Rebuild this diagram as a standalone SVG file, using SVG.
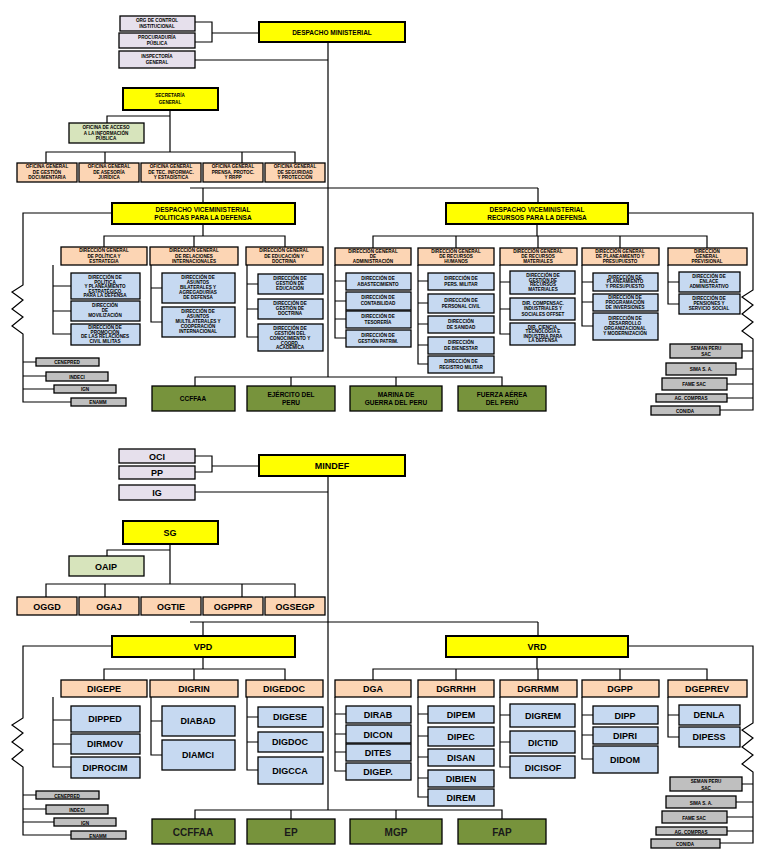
<svg xmlns="http://www.w3.org/2000/svg" width="768" height="866" viewBox="0 0 768 866">
<style>
rect{stroke:#000;stroke-width:1.3}
.y{fill:#ffff00;stroke-width:2}.l{fill:#e6e0ec}.g{fill:#d7e4bc}.o{fill:#fcd5b4}.b{fill:#c6d9f1}.gr{fill:#bfbfbf}.f{fill:#77933c}
text{font-family:"Liberation Sans",Arial,sans-serif;font-weight:900;text-anchor:middle;fill:#000}
.t{font-size:4.6px}.m{font-size:6.5px}.T{font-size:9px}.F{font-size:10px;fill:#1a1a1a}
.c path,.c line{stroke:#000;stroke-width:1.2;fill:none}
</style>
<g class="c" id="connectors">
<!-- top -->
<path d="M195,22H212V42H195M212,33H259M195,60H328M328,42V377M170,110V152M170,116H107V123M46,163V152H295V163M105,152V163M242,152V163M190,188H538M203,188V203M538,188V203"/>
<path d="M203,224V236M104,247V236H285V247M194,236V247M53,265V334H71M53,286H71M53,311H71M151,265V322H162M151,288H162M247,265V337H258M247,284H258M247,309H258"/>
<path d="M112,213H23V285L12,292L23,300L12,309L23,317L12,326L23,334V402H71M23,362H36M23,376H46M23,389H54"/>
<path d="M537,224V236M373,248V236H707V248M456,236V248M538,236V248M620,236V248M335,265V338H346M335,281H346M335,301H346M335,319H346M418,265V364H428M418,281H428M418,303H428M418,324H428M418,345H428M500,265V334H510M500,282H510M500,309H510M582,265V326H593M582,282H593M582,302H593M668,265V304H679M668,282H679"/>
<path d="M628,213H753V290L742,297L753,305L742,314L753,322L742,331L753,339V410H720M742,351H753M736,369H753M727,384H753M727,398H753"/>
<path d="M195,386V377H502V386M291,377V386M396,377V386"/>
<!-- bottom -->
<path d="M195,456H212V472H195M212,466H259M195,492H328M328,476V810M170,544V584M170,550H107V556M46,597V584H295V597M105,584V597M242,584V597M190,622H538M203,622V636M538,622V636"/>
<path d="M203,657V669M104,680V669H285V680M194,669V680M53,697V767H71M53,720H71M53,744H71M151,697V755H162M151,721H162M247,697V770H258M247,717H258M247,742H258"/>
<path d="M112,646H23V718L12,725L23,733L12,742L23,750L12,759L23,767V835H71M23,795H36M23,809H46M23,822H54"/>
<path d="M537,657V669M373,680V669H707V680M456,669V680M538,669V680M620,669V680M335,697V771H346M335,714H346M335,734H346M335,752H346M418,697V797H428M418,714H428M418,736H428M418,757H428M418,778H428M500,697V767H510M500,715H510M500,742H510M582,697V759H593M582,715H593M582,735H593M668,697V737H679M668,715H679"/>
<path d="M628,646H753V723L742,730L753,738L742,747L753,755L742,764L753,772V843H720M742,784H753M736,802H753M727,817H753M727,831H753"/>
<path d="M195,819V810H502V819M291,810V819M396,810V819"/>
</g>

<!-- ========== TOP ========== -->
<g id="oci1"><rect class="l" x="120" y="16" width="75" height="15"/><text class="t" x="157" y="22">ORG DE CONTROL</text><text class="t" x="157" y="28">INSTITUCIONAL</text></g>
<g id="pp1"><rect class="l" x="119" y="33" width="76" height="15"/><text class="t" x="157" y="39">PROCURADURÍA</text><text class="t" x="157" y="45">PÚBLICA</text></g>
<g id="ig1"><rect class="l" x="119" y="51" width="76" height="17"/><text class="t" x="157" y="58">INSPECTORÍA</text><text class="t" x="157" y="64">GENERAL</text></g>
<g id="dm1"><rect class="y" x="259" y="22" width="146" height="20"/><text class="m" x="332" y="35">DESPACHO MINISTERIAL</text></g>
<g id="sg1"><rect class="y" x="123" y="88" width="95" height="22"/><text class="t" x="170" y="97">SECRETARÍA</text><text class="t" x="170" y="104">GENERAL</text></g>
<g id="oaip1"><rect class="g" x="69" y="123" width="75" height="20"/><text class="t" x="106" y="129">OFICINA DE ACCESO</text><text class="t" x="106" y="134.5">A LA INFORMACIÓN</text><text class="t" x="106" y="140">PÚBLICA</text></g>
<g id="ogs1">
<rect class="o" x="17" y="163" width="60" height="19"/><text class="t" x="47" y="168">OFICINA GENERAL</text><text class="t" x="47" y="173.5">DE GESTIÓN</text><text class="t" x="47" y="179">DOCUMENTARIA</text>
<rect class="o" x="79" y="163" width="60" height="19"/><text class="t" x="109" y="168">OFICINA GENERAL</text><text class="t" x="109" y="173.5">DE ASESORÍA</text><text class="t" x="109" y="179">JURÍDICA</text>
<rect class="o" x="141" y="163" width="60" height="19"/><text class="t" x="171" y="168">OFICINA GENERAL</text><text class="t" x="171" y="173.5">DE TEC. INFORMAC.</text><text class="t" x="171" y="179">Y ESTADÍSTICA</text>
<rect class="o" x="203" y="163" width="60" height="19"/><text class="t" x="233" y="168">OFICINA GENERAL</text><text class="t" x="233" y="173.5">PRENSA, PROTOC.</text><text class="t" x="233" y="179">Y RRPP</text>
<rect class="o" x="265" y="163" width="60" height="19"/><text class="t" x="295" y="168">OFICINA GENERAL</text><text class="t" x="295" y="173.5">DE SEGURIDAD</text><text class="t" x="295" y="179">Y PROTECCIÓN</text>
</g>
<g id="vpd1"><rect class="y" x="112" y="203" width="183" height="21"/><text class="m" x="203" y="211.5" font-size="6">DESPACHO VICEMINISTERIAL</text><text class="m" x="203" y="219.5">POLITICAS PARA LA DEFENSA</text></g>
<g id="vrd1"><rect class="y" x="446" y="203" width="182" height="21"/><text class="m" x="537" y="211.5">DESPACHO VICEMINISTERIAL</text><text class="m" x="537" y="219.5">RECURSOS PARA LA DEFENSA</text></g>
<g id="dgs1">
<rect class="o" x="61" y="247" width="86" height="18"/><text class="t" x="104" y="252">DIRECCIÓN GENERAL</text><text class="t" x="104" y="257.5">DE POLÍTICA Y</text><text class="t" x="104" y="263">ESTRATEGIA</text>
<rect class="o" x="150" y="247" width="88" height="18"/><text class="t" x="194" y="252">DIRECCIÓN GENERAL</text><text class="t" x="194" y="257.5">DE RELACIONES</text><text class="t" x="194" y="263">INTERNACIONALES</text>
<rect class="o" x="246" y="247" width="77" height="18"/><text class="t" x="284" y="252">DIRECCIÓN GENERAL</text><text class="t" x="284" y="257.5">DE EDUCACIÓN Y</text><text class="t" x="284" y="263">DOCTRINA</text>
<rect class="o" x="335" y="248" width="76" height="17"/><text class="t" x="373" y="253">DIRECCIÓN GENERAL</text><text class="t" x="373" y="258">DE</text><text class="t" x="373" y="263">ADMINISTRACIÓN</text>
<rect class="o" x="418" y="248" width="76" height="17"/><text class="t" x="456" y="253">DIRECCIÓN GENERAL</text><text class="t" x="456" y="258">DE RECURSOS</text><text class="t" x="456" y="263">HUMANOS</text>
<rect class="o" x="500" y="248" width="77" height="17"/><text class="t" x="538" y="253">DIRECCIÓN GENERAL</text><text class="t" x="538" y="258">DE RECURSOS</text><text class="t" x="538" y="263">MATERIALES</text>
<rect class="o" x="582" y="248" width="77" height="17"/><text class="t" x="620" y="253">DIRECCIÓN GENERAL</text><text class="t" x="620" y="258">DE PLANEAMIENTO Y</text><text class="t" x="620" y="263">PRESUPUESTO</text>
<rect class="o" x="668" y="248" width="79" height="17"/><text class="t" x="707" y="253">DIRECCIÓN</text><text class="t" x="707" y="258">GENERAL</text><text class="t" x="707" y="263">PREVISIONAL</text>
</g>
<g id="subs1">
<rect class="b" x="71" y="273" width="69" height="26"/><text class="t" x="105" y="279">DIRECCIÓN DE</text><text class="t" x="105" y="283.5">POLÍTICA</text><text class="t" x="105" y="288">Y PLANEAMIENTO</text><text class="t" x="105" y="292.5">ESTRATÉGICO</text><text class="t" x="105" y="297">PARA LA DEFENSA</text>
<rect class="b" x="71" y="301" width="69" height="20"/><text class="t" x="105" y="307">DIRECCIÓN</text><text class="t" x="105" y="312">DE</text><text class="t" x="105" y="317">MOVILIZACIÓN</text>
<rect class="b" x="71" y="324" width="69" height="21"/><text class="t" x="105" y="329">DIRECCIÓN DE</text><text class="t" x="105" y="333.5">PROMOCIÓN</text><text class="t" x="105" y="338">DE LAS RELACIONES</text><text class="t" x="105" y="342.5">CIVIL MILITAS</text>
<rect class="b" x="162" y="273" width="73" height="30"/><text class="t" x="198" y="279">DIRECCIÓN DE</text><text class="t" x="198" y="284">ASUNTOS</text><text class="t" x="198" y="289">BILATERALES Y</text><text class="t" x="198" y="294">AGREGADURÍAS</text><text class="t" x="198" y="299">DE DEFENSA</text>
<rect class="b" x="162" y="307" width="73" height="30"/><text class="t" x="198" y="313">DIRECCIÓN DE</text><text class="t" x="198" y="318">ASUNTOS</text><text class="t" x="198" y="323">MULTILATERALES Y</text><text class="t" x="198" y="328">COOPERACIÓN</text><text class="t" x="198" y="333">INTERNACIONAL</text>
<rect class="b" x="258" y="274" width="65" height="20"/><text class="t" x="290" y="279.5">DIRECCIÓN DE</text><text class="t" x="290" y="284.5">GESTIÓN DE</text><text class="t" x="290" y="289.5">EDUCACIÓN</text>
<rect class="b" x="258" y="299" width="65" height="20"/><text class="t" x="290" y="304.5">DIRECCIÓN DE</text><text class="t" x="290" y="309.5">GESTIÓN DE</text><text class="t" x="290" y="314.5">DOCTRINA</text>
<rect class="b" x="258" y="324" width="65" height="27"/><text class="t" x="290" y="330">DIRECCIÓN DE</text><text class="t" x="290" y="335">GESTIÓN DEL</text><text class="t" x="290" y="340">CONOCIMIENTO Y</text><text class="t" x="290" y="344.5">COORD.</text><text class="t" x="290" y="349">ACADÉMICA</text>
<rect class="b" x="346" y="273" width="65" height="17"/><text class="t" x="378" y="280">DIRECCIÓN DE</text><text class="t" x="378" y="286">ABASTECIMIENTO</text>
<rect class="b" x="346" y="292" width="65" height="18"/><text class="t" x="378" y="299">DIRECCIÓN DE</text><text class="t" x="378" y="305">CONTABILIDAD</text>
<rect class="b" x="346" y="311" width="65" height="17"/><text class="t" x="378" y="318">DIRECCIÓN DE</text><text class="t" x="378" y="324">TESORERÍA</text>
<rect class="b" x="346" y="330" width="65" height="17"/><text class="t" x="378" y="337">DIRECCIÓN DE</text><text class="t" x="378" y="343">GESTIÓN PATRIM.</text>
<rect class="b" x="428" y="273" width="66" height="17"/><text class="t" x="461" y="280">DIRECCIÓN DE</text><text class="t" x="461" y="286">PERS. MILITAR</text>
<rect class="b" x="428" y="294" width="66" height="19"/><text class="t" x="461" y="302">DIRECCIÓN DE</text><text class="t" x="461" y="308">PERSONAL CIVIL</text>
<rect class="b" x="428" y="316" width="66" height="17"/><text class="t" x="461" y="323">DIRECCIÓN</text><text class="t" x="461" y="329">DE SANIDAD</text>
<rect class="b" x="428" y="337" width="66" height="17"/><text class="t" x="461" y="344">DIRECCIÓN</text><text class="t" x="461" y="350">DE BIENESTAR</text>
<rect class="b" x="428" y="356" width="66" height="17"/><text class="t" x="461" y="363">DIRECCIÓN DE</text><text class="t" x="461" y="369">REGISTRO MILITAR</text>
<rect class="b" x="510" y="271" width="65" height="23"/><text class="t" x="543" y="277">DIRECCIÓN DE</text><text class="t" x="543" y="281.5">GESTIÓN DE</text><text class="t" x="543" y="286">RECURSOS</text><text class="t" x="543" y="290.5">MATERIALES</text>
<rect class="b" x="510" y="298" width="65" height="22"/><text class="t" x="543" y="304.5">DIR. COMPENSAC.</text><text class="t" x="543" y="310">INDUSTRIALES Y</text><text class="t" x="543" y="315.5">SOCIALES OFFSET</text>
<rect class="b" x="510" y="323" width="65" height="22"/><text class="t" x="543" y="328.5">DIR. CIENCIA,</text><text class="t" x="543" y="333">TECNOLOGÍA E</text><text class="t" x="543" y="337.5">INDUSTRIA PARA</text><text class="t" x="543" y="342">LA DEFENSA</text>
<rect class="b" x="593" y="273" width="65" height="18"/><text class="t" x="625" y="278.5">DIRECCIÓN DE</text><text class="t" x="625" y="283">PLANEAMIENTO</text><text class="t" x="625" y="288">Y PRESUPUESTO</text>
<rect class="b" x="593" y="294" width="65" height="17"/><text class="t" x="625" y="299">DIRECCIÓN DE</text><text class="t" x="625" y="303.5">PROGRAMACIÓN</text><text class="t" x="625" y="308.5">DE INVERSIONES</text>
<rect class="b" x="593" y="313" width="65" height="27"/><text class="t" x="625" y="320">DIRECCIÓN DE</text><text class="t" x="625" y="325">DESARROLLO</text><text class="t" x="625" y="330">ORGANIZACIONAL</text><text class="t" x="625" y="335">Y MODERNIZACIÓN</text>
<rect class="b" x="679" y="272" width="61" height="20"/><text class="t" x="709" y="277.5">DIRECCIÓN DE</text><text class="t" x="709" y="282.5">ENLACE</text><text class="t" x="709" y="287.5">ADMINISTRATIVO</text>
<rect class="b" x="679" y="294" width="61" height="20"/><text class="t" x="709" y="299.5">DIRECCIÓN DE</text><text class="t" x="709" y="304.5">PENSIONES Y</text><text class="t" x="709" y="309.5">SERVICIO SOCIAL</text>
</g>
<g id="org1">
<rect class="gr" x="36" y="358" width="63" height="8"/><text class="t" x="67" y="364">CENEPRED</text>
<rect class="gr" x="46" y="372" width="62" height="9"/><text class="t" x="77" y="378.5">INDECI</text>
<rect class="gr" x="54" y="385" width="62" height="8"/><text class="t" x="85" y="391">IGN</text>
<rect class="gr" x="71" y="398" width="55" height="8"/><text class="t" x="98" y="404">ENAMM</text>
<rect class="gr" x="670" y="344" width="72" height="14"/><text class="t" x="706" y="350">SEMAN PERU</text><text class="t" x="706" y="355.5">SAC</text>
<rect class="gr" x="666" y="363" width="70" height="12"/><text class="t" x="701" y="371">SIMA  S. A.</text>
<rect class="gr" x="662" y="378" width="65" height="12"/><text class="t" x="694" y="386">FAME SAC</text>
<rect class="gr" x="656" y="394" width="71" height="8"/><text class="t" x="691" y="400">AG. COMPRAS</text>
<rect class="gr" x="651" y="406" width="69" height="9"/><text class="t" x="685" y="412.5">CONIDA</text>
</g>
<g id="ff1">
<rect class="f" x="152" y="386" width="83" height="25"/><text class="m" x="193" y="401" font-size="7">CCFFAA</text>
<rect class="f" x="247" y="386" width="88" height="25"/><text class="m" x="291" y="397" font-size="7">EJÉRCITO DEL</text><text class="m" x="291" y="405" font-size="7">PERU</text>
<rect class="f" x="350" y="386" width="92" height="25"/><text class="m" x="396" y="397" font-size="7">MARINA DE</text><text class="m" x="396" y="405" font-size="7">GUERRA DEL PERU</text>
<rect class="f" x="458" y="386" width="88" height="25"/><text class="m" x="502" y="397" font-size="7">FUERZA AÉREA</text><text class="m" x="502" y="405" font-size="7">DEL PERÚ</text>
</g>

<!-- ========== BOTTOM ========== -->
<g id="oci2"><rect class="l" x="119" y="449" width="76" height="14"/><text class="T" x="157" y="459.5">OCI</text></g>
<g id="pp2"><rect class="l" x="119" y="466" width="76" height="13"/><text class="T" x="157" y="476">PP</text></g>
<g id="ig2"><rect class="l" x="119" y="485" width="76" height="15"/><text class="T" x="157" y="496">IG</text></g>
<g id="dm2"><rect class="y" x="259" y="455" width="146" height="21"/><text class="T" x="332" y="469">MINDEF</text></g>
<g id="sg2"><rect class="y" x="123" y="521" width="95" height="23"/><text class="T" x="170" y="536">SG</text></g>
<g id="oaip2"><rect class="g" x="69" y="556" width="75" height="20"/><text class="T" x="106" y="569.5">OAIP</text></g>
<g id="ogs2">
<rect class="o" x="17" y="597" width="60" height="18"/><text class="T" x="47" y="609.5">OGGD</text>
<rect class="o" x="79" y="597" width="60" height="18"/><text class="T" x="109" y="609.5">OGAJ</text>
<rect class="o" x="141" y="597" width="60" height="18"/><text class="T" x="171" y="609.5">OGTIE</text>
<rect class="o" x="203" y="597" width="60" height="18"/><text class="T" x="233" y="609.5">OGPPRP</text>
<rect class="o" x="265" y="597" width="60" height="18"/><text class="T" x="295" y="609.5">OGSEGP</text>
</g>
<g id="vpd2"><rect class="y" x="112" y="636" width="183" height="21"/><text class="T" x="203" y="650">VPD</text></g>
<g id="vrd2"><rect class="y" x="446" y="636" width="182" height="21"/><text class="T" x="537" y="650">VRD</text></g>
<g id="dgs2">
<rect class="o" x="61" y="680" width="86" height="17"/><text class="T" x="104" y="692">DIGEPE</text>
<rect class="o" x="150" y="680" width="88" height="17"/><text class="T" x="194" y="692">DIGRIN</text>
<rect class="o" x="246" y="680" width="77" height="17"/><text class="T" x="284" y="692">DIGEDOC</text>
<rect class="o" x="335" y="680" width="76" height="17"/><text class="T" x="373" y="692">DGA</text>
<rect class="o" x="418" y="680" width="76" height="17"/><text class="T" x="456" y="692">DGRRHH</text>
<rect class="o" x="500" y="680" width="77" height="17"/><text class="T" x="538" y="692">DGRRMM</text>
<rect class="o" x="582" y="680" width="77" height="17"/><text class="T" x="620" y="692">DGPP</text>
<rect class="o" x="668" y="680" width="79" height="17"/><text class="T" x="707" y="692">DGEPREV</text>
</g>
<g id="subs2">
<rect class="b" x="71" y="706" width="69" height="26"/><text class="T" x="105" y="722">DIPPED</text>
<rect class="b" x="71" y="734" width="69" height="20"/><text class="T" x="105" y="747">DIRMOV</text>
<rect class="b" x="71" y="757" width="69" height="21"/><text class="T" x="105" y="770.5">DIPROCIM</text>
<rect class="b" x="162" y="706" width="73" height="30"/><text class="T" x="198" y="724">DIABAD</text>
<rect class="b" x="162" y="740" width="73" height="30"/><text class="T" x="198" y="758">DIAMCI</text>
<rect class="b" x="258" y="707" width="65" height="20"/><text class="T" x="290" y="720">DIGESE</text>
<rect class="b" x="258" y="732" width="65" height="20"/><text class="T" x="290" y="745">DIGDOC</text>
<rect class="b" x="258" y="757" width="65" height="27"/><text class="T" x="290" y="773.5">DIGCCA</text>
<rect class="b" x="346" y="706" width="65" height="17"/><text class="T" x="378" y="718">DIRAB</text>
<rect class="b" x="346" y="725" width="65" height="18"/><text class="T" x="378" y="737.5">DICON</text>
<rect class="b" x="346" y="744" width="65" height="17"/><text class="T" x="378" y="756">DITES</text>
<rect class="b" x="346" y="763" width="65" height="17"/><text class="T" x="378" y="775">DIGEP.</text>
<rect class="b" x="428" y="706" width="66" height="17"/><text class="T" x="461" y="718">DIPEM</text>
<rect class="b" x="428" y="727" width="66" height="19"/><text class="T" x="461" y="740">DIPEC</text>
<rect class="b" x="428" y="749" width="66" height="17"/><text class="T" x="461" y="761">DISAN</text>
<rect class="b" x="428" y="770" width="66" height="17"/><text class="T" x="461" y="782">DIBIEN</text>
<rect class="b" x="428" y="789" width="66" height="17"/><text class="T" x="461" y="801">DIREM</text>
<rect class="b" x="510" y="704" width="65" height="23"/><text class="T" x="543" y="719">DIGREM</text>
<rect class="b" x="510" y="731" width="65" height="22"/><text class="T" x="543" y="745.5">DICTID</text>
<rect class="b" x="510" y="756" width="65" height="22"/><text class="T" x="543" y="770.5">DICISOF</text>
<rect class="b" x="593" y="706" width="65" height="18"/><text class="T" x="625" y="718.5">DIPP</text>
<rect class="b" x="593" y="727" width="65" height="17"/><text class="T" x="625" y="739">DIPRI</text>
<rect class="b" x="593" y="746" width="65" height="27"/><text class="T" x="625" y="763">DIDOM</text>
<rect class="b" x="679" y="705" width="61" height="20"/><text class="T" x="709" y="718">DENLA</text>
<rect class="b" x="679" y="727" width="61" height="20"/><text class="T" x="709" y="740">DIPESS</text>
</g>
<g id="org2">
<rect class="gr" x="36" y="791" width="63" height="8"/><text class="t" x="67" y="797.5" font-size="7">CENEPRED</text>
<rect class="gr" x="46" y="805" width="62" height="9"/><text class="t" x="77" y="812" font-size="7">INDECI</text>
<rect class="gr" x="54" y="818" width="62" height="8"/><text class="t" x="85" y="824.5" font-size="7">IGN</text>
<rect class="gr" x="71" y="831" width="55" height="8"/><text class="t" x="98" y="837.5" font-size="7">ENAMM</text>
<rect class="gr" x="670" y="777" width="72" height="14"/><text class="t" x="706" y="783" font-size="6.5">SEMAN PERU</text><text class="t" x="706" y="789.5" font-size="6.5">SAC</text>
<rect class="gr" x="666" y="796" width="70" height="12"/><text class="t" x="701" y="804.5" font-size="7">SIMA  S. A.</text>
<rect class="gr" x="662" y="811" width="65" height="12"/><text class="t" x="694" y="819.5" font-size="7">FAME SAC</text>
<rect class="gr" x="656" y="827" width="71" height="8"/><text class="t" x="691" y="833.5" font-size="7">AG. COMPRAS</text>
<rect class="gr" x="651" y="839" width="69" height="9"/><text class="t" x="685" y="846" font-size="7">CONIDA</text>
</g>
<g id="ff2">
<rect class="f" x="152" y="819" width="83" height="25"/><text class="F" x="193" y="835.5">CCFFAA</text>
<rect class="f" x="247" y="819" width="88" height="25"/><text class="F" x="291" y="835.5">EP</text>
<rect class="f" x="350" y="819" width="92" height="25"/><text class="F" x="396" y="835.5">MGP</text>
<rect class="f" x="458" y="819" width="88" height="25"/><text class="F" x="502" y="835.5">FAP</text>
</g>
</svg>
